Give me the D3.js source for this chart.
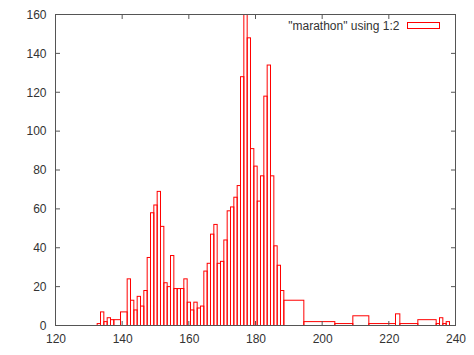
<!DOCTYPE html>
<html>
<head>
<meta charset="utf-8">
<script src="https://cdn.jsdelivr.net/npm/d3@7"></script>
<style>
  body { margin: 0; background: #fff; }
  text { font-family: "Liberation Sans", Arial, sans-serif; font-size: 12px; fill: #333; }
</style>
</head>
<body>
<div id="chart-area"></div>
<script>

// Histogram bins (finishing time, minutes) and counts
let binStart = [132.5, 133.5, 134.5, 135.5, 136.5, 137.5, 139.5, 141.5, 142.5, 143.5,
	144.5, 145.5, 146.5, 147.5, 148.5, 149.5, 150.5, 151.5, 152.5, 153.5,
	154.5, 155.5, 156.5, 157.5, 158.5, 159.5, 160.5, 161.5, 162.5, 163.5,
	164.5, 165.5, 166.5, 167.5, 168.5, 169.5, 170.5, 171.5, 172.5, 173.5,
	174.5, 175.5, 176.5, 177.5, 178.5, 179.5, 180.5, 181.5, 182.5, 183.5,
	184.5, 185.5, 186.5, 187.5, 188.5, 194.5, 203.8, 209.2, 214, 222,
	223.3, 228.7, 234.2, 235.2, 236.2, 237.2];
let binEnd = [133.5, 134.5, 135.5, 136.5, 137.5, 139.5, 141.5, 142.5, 143.5, 144.5,
	145.5, 146.5, 147.5, 148.5, 149.5, 150.5, 151.5, 152.5, 153.5, 154.5,
	155.5, 156.5, 157.5, 158.5, 159.5, 160.5, 161.5, 162.5, 163.5, 164.5,
	165.5, 166.5, 167.5, 168.5, 169.5, 170.5, 171.5, 172.5, 173.5, 174.5,
	175.5, 176.5, 177.5, 178.5, 179.5, 180.5, 181.5, 182.5, 183.5, 184.5,
	185.5, 186.5, 187.5, 188.5, 194.5, 203.8, 209.2, 214, 222, 223.3,
	228.7, 234.2, 235.2, 236.2, 237.2, 238.2];
let counts = [1, 7, 2, 4, 3, 3, 7, 24, 13, 8,
	15, 10, 18, 35, 58, 62, 69, 51, 22, 20,
	36, 19, 19, 19, 24, 12, 8, 12, 9, 10,
	28, 32, 47, 52, 32, 33, 44, 59, 61, 66,
	72, 128, 172, 148, 91, 82, 64, 77, 118, 134,
	77, 41, 31, 18, 13, 2, 1, 5, 1, 6,
	1, 3, 1, 4, 1, 2];

let xTicks = [120, 140, 160, 180, 200, 220, 240];
let yTicks = [0, 20, 40, 60, 80, 100, 120, 140, 160];
let seriesLabel = '"marathon" using 1:2';

let data = counts.map((c, i) => ({lo: binStart[i], hi: binEnd[i], count: c}));

// SVG drawing area
let margin = {top: 14.5, right: 18.5, bottom: 29.5, left: 55.5};
let width = 474 - margin.left - margin.right,
    height = 355 - margin.top - margin.bottom;

let svg = d3.select("#chart-area").append("svg")
    .attr("width", 474)
    .attr("height", 355)
  .append("g")
    .attr("transform", "translate(" + margin.left + "," + margin.top + ")");

// Scales
let x = d3.scaleLinear().domain([120, 240]).range([0, width]);
let y = d3.scaleLinear().domain([0, 160]).range([height, 0]);

svg.append("clipPath")
    .attr("id", "plot-clip")
  .append("rect")
    .attr("width", width)
    .attr("height", height);

// Boxes
svg.append("g")
    .attr("clip-path", "url(#plot-clip)")
  .selectAll("rect")
    .data(data)
  .enter().append("rect")
    .attr("x", d => x(d.lo))
    .attr("y", d => y(d.count))
    .attr("width", d => x(d.hi) - x(d.lo))
    .attr("height", d => y(0) - y(d.count))
    .attr("fill", "none")
    .attr("stroke", "#ff0000")
    .attr("stroke-width", 1);

// Axes with inward (mirrored) ticks
let tick = 4.5;

let xAxis = d3.axisBottom(x).tickValues(xTicks).tickSize(0).tickPadding(9);
let yAxis = d3.axisLeft(y).tickValues(yTicks).tickSize(0).tickPadding(9);

let xAxisGroup = svg.append("g")
    .attr("class", "x-axis axis")
    .attr("transform", "translate(0," + height + ")")
    .call(xAxis);

let yAxisGroup = svg.append("g")
    .attr("class", "y-axis axis")
    .call(yAxis);

svg.selectAll(".axis .domain").remove();
svg.selectAll(".axis text").attr("fill", "#333")
    .style("font-family", "'Liberation Sans', Arial, sans-serif")
    .style("font-size", "12px");

let ticks = svg.append("g").attr("stroke", "#555").attr("stroke-width", 1);

xTicks.forEach(v => {
	ticks.append("line").attr("x1", x(v)).attr("x2", x(v)).attr("y1", height).attr("y2", height - tick);
	ticks.append("line").attr("x1", x(v)).attr("x2", x(v)).attr("y1", 0).attr("y2", tick);
});
yTicks.forEach(v => {
	ticks.append("line").attr("x1", 0).attr("x2", tick).attr("y1", y(v)).attr("y2", y(v));
	ticks.append("line").attr("x1", width).attr("x2", width - tick).attr("y1", y(v)).attr("y2", y(v));
});

// Border
svg.append("rect")
    .attr("width", width)
    .attr("height", height)
    .attr("fill", "none")
    .attr("stroke", "#555")
    .attr("stroke-width", 1);

// Key
svg.append("text")
    .attr("x", 344)
    .attr("y", 15.5)
    .attr("text-anchor", "end")
    .text(seriesLabel);

svg.append("rect")
    .attr("x", 352)
    .attr("y", 8)
    .attr("width", 32)
    .attr("height", 6)
    .attr("fill", "none")
    .attr("stroke", "#ff0000");

</script>
</body>
</html>
